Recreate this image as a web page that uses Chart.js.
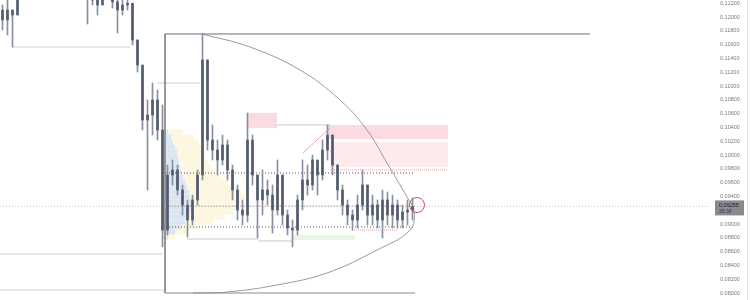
<!DOCTYPE html>
<html>
<head>
<meta charset="utf-8">
<script src="https://cdn.jsdelivr.net/npm/chart.js@4.4.1/dist/chart.umd.min.js"></script>
<style>
  html, body { margin: 0; padding: 0; background: #fff; }
  #wrap { position: relative; width: 750px; height: 300px; }
</style>
</head>
<body>
<div id="wrap"><canvas id="chart"></canvas></div>
<script>
// candles, one per bar index (bars 3-16 and 20-21 trade above the visible range)
const highs = [
  0.12174, 0.12246, 0.12101,
  0.1250, 0.1262, 0.1275, 0.1281, 0.1290, 0.1284, 0.1277, 0.1270, 0.1266, 0.1259, 0.1263, 0.1256, 0.1252, 0.1247,
  0.1239, 0.1232, 0.1232, 0.1240, 0.1242, 0.1232, 0.12246, 0.1226, 0.1228,
  0.12174, 0.11667, 0.11232, 0.10797, 0.11043, 0.10942, 0.10725,
  0.09855, 0.09928, 0.09855, 0.09565, 0.09348, 0.09420, 0.09783,
  0.11754, 0.11377, 0.10435, 0.10217, 0.10290, 0.10217, 0.09855, 0.09565, 0.09348,
  0.10609, 0.10290, 0.09710, 0.09783, 0.09638, 0.09565, 0.09928, 0.09710, 0.09203, 0.09058,
  0.09420, 0.09928, 0.09855, 0.10000, 0.09855, 0.10217, 0.10435, 0.10290, 0.09855, 0.09565,
  0.09348, 0.09203, 0.09420, 0.09783, 0.09565, 0.09420, 0.09348, 0.09493, 0.09464, 0.09420,
  0.09348, 0.09275, 0.09348, 0.09377
];
const lows = [
  0.11812, 0.11739, 0.11565,
  0.1233, 0.1244, 0.1258, 0.1266, 0.1271, 0.1265, 0.1259, 0.1253, 0.1247, 0.1242, 0.1244, 0.1238, 0.1236, 0.1231,
  0.11899, 0.12174, 0.12029, 0.1228, 0.1229, 0.1213, 0.11768, 0.12029, 0.12101,
  0.11594, 0.11203, 0.10362, 0.09493, 0.10290, 0.10217, 0.08667,
  0.08841, 0.09565, 0.09420, 0.09130, 0.08812, 0.08986, 0.09275,
  0.09638, 0.10072, 0.09928, 0.09710, 0.09855, 0.09638, 0.09348, 0.09058, 0.08986,
  0.09029, 0.09565, 0.08797, 0.09130, 0.09275, 0.08870, 0.09130, 0.08986, 0.08841, 0.08667,
  0.08841, 0.09203, 0.09420, 0.09493, 0.09420, 0.09638, 0.09928, 0.09710, 0.09348, 0.09130,
  0.08986, 0.08913, 0.08942, 0.09203, 0.08986, 0.08986, 0.08942, 0.08797, 0.08986, 0.08942,
  0.08942, 0.08942, 0.08986, 0.09058
];
const closes = [
  0.11957, 0.12101, 0.12029,
  0.1240, 0.1255, 0.1266, 0.1278, 0.1276, 0.1270, 0.1262, 0.1258, 0.1250, 0.1255, 0.1249, 0.1245, 0.1240, 0.1236,
  0.1227, 0.12246, 0.12174, 0.1235, 0.1231, 0.1222, 0.12101, 0.12174, 0.1220,
  0.11667, 0.11304, 0.10507, 0.10580, 0.10797, 0.10362, 0.08913,
  0.09710, 0.09783, 0.09493, 0.09275, 0.09058, 0.09348, 0.09710,
  0.11377, 0.10217, 0.10072, 0.09928, 0.10145, 0.09783, 0.09493, 0.09203, 0.09130,
  0.10217, 0.09710, 0.09348, 0.09493, 0.09420, 0.09203, 0.09710, 0.09130, 0.08942, 0.08913,
  0.09348, 0.09638, 0.09565, 0.09928, 0.09710, 0.10072, 0.10290, 0.09855, 0.09493, 0.09275,
  0.09130, 0.09058, 0.09275, 0.09565, 0.09130, 0.09275, 0.09058, 0.09348, 0.09130, 0.09275,
  0.09058, 0.09174, 0.09203, 0.09255
];
const firstOpen = 0.1210;

const lastPrice = 0.09255;
const countdown = '35:38';

// drawings, in bar index / price
const frameTop = 0.11754, frameBottom = 0.08000;
const frameStart = 32.5, frameEnd = 117.5, frameBottomEnd = 82.5;
const arcPts = [
  [39.9, 0.11754], [49.5, 0.11565], [59.5, 0.11232], [67.5, 0.10797], [72.9, 0.10362],
  [76.9, 0.09884], [80.9, 0.09391], [82.3, 0.09203], [81.5, 0.08913], [74.9, 0.08623],
  [64.9, 0.08290], [54.9, 0.08116], [44.9, 0.08014], [38.1, 0.08000]
];
const rangeStart = 32.1, rangeEnd = 82.5;
const rangeLevels = [0.09739, 0.08957];
const rangeMid = 0.09261;
const leftLevels = [[1.9, 25.5, 0.11565], [-0.5, 32.1, 0.08565], [-0.5, 32.5, 0.08043], [30.9, 39.5, 0.11043]];
const supportLevels = [[36.9, 51.1, 0.08783], [51.1, 58.1, 0.08754], [54.9, 65.5, 0.10435]];
const pinkLevels = [[69.9, 79.1, 0.08913], [65.5, 89.1, 0.09783]];
const pinkDiagonal = [[60.1, 0.10029], [65.5, 0.10391]];
const supplyZones = [[48.9, 54.9, 0.10609, 0.10391], [65.1, 89.1, 0.10435, 0.10232]];
const weakZones = [[65.5, 89.1, 0.10188, 0.09826]];
const demandZone = [58.1, 70.5, 0.08841, 0.08768];
const marker = [82.9, 0.09275];

// volume profile rows
const profileStart = 32.1;
const profilePrices = [0.10333, 0.10261, 0.10188, 0.10116, 0.10043, 0.09971, 0.09899, 0.09826, 0.09754, 0.09681, 0.09609,
  0.09536, 0.09464, 0.09391, 0.09319, 0.09246, 0.09174, 0.09101, 0.09029, 0.08957, 0.08884, 0.08812];
const profileBuy = [1, 1.6, 2, 2.4, 2.8, 3, 3.2, 3.4, 3.6, 4, 4.4, 4.8, 5.2, 5.4, 5.6, 5.6, 5.4, 5, 4.4, 3.6, 2.4, 1];
const profileTotal = [4, 6, 7, 7.6, 8, 8.4, 9, 9.6, 10.4, 11.6, 13, 14.4, 15.6, 16.4, 16, 15, 14, 12.4, 10, 7.6, 5, 2.4];
const profileStep = 0.000725;

const wickData = highs.map((h, i) => ({ x: i, y: [lows[i], h] }));
const bodyData = closes.map((c, i) => ({ x: i, y: [i ? closes[i - 1] : firstOpen, c] }));

function seg(points, color, dash, width, tension) {
  return {
    type: 'line',
    data: points.map(p => ({ x: p[0], y: p[1] })),
    borderColor: color, borderWidth: width || 1, borderDash: dash || [],
    pointRadius: 0, tension: tension || 0, fill: false, order: 2
  };
}

const lineSets = [
  seg([[-0.5, lastPrice], [142, lastPrice]], '#c4c4c4', [1, 2]),
  seg([[frameStart, frameTop], [frameEnd, frameTop]], '#6e6e6e'),
  seg([[frameStart, frameTop], [frameStart, frameBottom]], '#8a8a8a'),
  seg([[frameStart, frameBottom], [frameBottomEnd, frameBottom]], '#8a8a8a'),
  seg(arcPts, '#9a9a9a', [], 1, 0.4),
  seg([[rangeStart, rangeMid], [rangeEnd, rangeMid]], '#b88484', [1, 2]),
  ...rangeLevels.map(v => seg([[rangeStart, v], [rangeEnd, v]], '#5a5a5a', [1, 2])),
  ...leftLevels.map(l => seg([[l[0], l[2]], [l[1], l[2]]], '#cfcfcf')),
  ...supportLevels.map(l => seg([[l[0], l[2]], [l[1], l[2]]], '#c9c9c9')),
  ...pinkLevels.map(l => seg([[l[0], l[2]], [l[1], l[2]]], '#dba3a8', [1, 1])),
  seg(pinkDiagonal, '#e7aab0')
];

const backdrop = {
  id: 'backdrop',
  beforeDatasetsDraw(chart) {
    const { ctx, scales: { x, y } } = chart;
    const rect = (x0, x1, p0, p1, color) => {
      const a = x.getPixelForValue(x0), b = x.getPixelForValue(x1);
      const t = y.getPixelForValue(p0), u = y.getPixelForValue(p1);
      ctx.fillStyle = color;
      ctx.fillRect(a, t, b - a, u - t);
    };
    ctx.save();
    profilePrices.forEach((p, i) => {
      rect(profileStart, profileStart + profileTotal[i], p + profileStep / 2, p - profileStep / 2, 'rgba(252,242,205,0.6)');
      rect(profileStart, profileStart + profileBuy[i], p + profileStep / 2, p - profileStep / 2, 'rgba(214,227,246,0.85)');
    });
    supplyZones.forEach(z => rect(z[0], z[1], z[2], z[3], 'rgba(244,170,182,0.42)'));
    weakZones.forEach(z => rect(z[0], z[1], z[2], z[3], 'rgba(246,190,198,0.32)'));
    rect(demandZone[0], demandZone[1], demandZone[2], demandZone[3], 'rgba(205,232,200,0.45)');
    ctx.restore();
  }
};

const overlay = {
  id: 'overlay',
  afterDatasetsDraw(chart) {
    const { ctx, chartArea, scales: { x, y } } = chart;
    ctx.save();
    // highlight circle on the last bars
    ctx.beginPath();
    ctx.arc(x.getPixelForValue(marker[0]), y.getPixelForValue(marker[1]), 7.5, 0, Math.PI * 2);
    ctx.strokeStyle = '#c0545a';
    ctx.lineWidth = 1;
    ctx.stroke();
    // last price label
    const py = y.getPixelForValue(lastPrice);
    const bx = chartArea.right + 5;
    ctx.fillStyle = '#878a90';
    ctx.fillRect(bx, py - 6, 29, 15);
    ctx.fillStyle = '#1f1f1f';
    ctx.font = '5.5px "Liberation Sans"';
    ctx.textBaseline = 'middle';
    ctx.fillText(lastPrice.toFixed(5), bx + 4, py - 1);
    ctx.fillStyle = '#3a3a3a';
    ctx.font = '5px "Liberation Sans"';
    ctx.fillText(countdown, bx + 4, py + 5);
    // pane edge
    ctx.strokeStyle = '#e3e3e3';
    ctx.beginPath();
    ctx.moveTo(chart.width - 2.5, 0);
    ctx.lineTo(chart.width - 2.5, chart.height);
    ctx.stroke();
    ctx.restore();
  }
};

new Chart(document.getElementById('chart'), {
  type: 'bar',
  data: {
    datasets: [
      { data: wickData, backgroundColor: '#8790a0', barThickness: 1, grouped: false, order: 1 },
      { data: bodyData, backgroundColor: '#525b6d', barThickness: 2, minBarLength: 1, grouped: false, order: 0 },
      ...lineSets
    ]
  },
  options: {
    responsive: true,
    maintainAspectRatio: false,
    animation: false,
    layout: { padding: 0 },
    plugins: { legend: { display: false }, tooltip: { enabled: false } },
    scales: {
      x: { type: 'linear', min: -0.5, max: 141.5, offset: false, display: false },
      y: {
        position: 'right',
        min: 0.078986,
        max: 0.122464,
        afterFit(scale) {
          scale.width = 40;
          scale.paddingTop = 0;
          scale.paddingBottom = 0;
        },
        grid: { display: false, drawTicks: false },
        border: { display: false },
        ticks: {
          stepSize: 0.002,
          includeBounds: false,
          autoSkip: false,
          padding: 10,
          color: '#7b7b7b',
          font: { family: 'Liberation Sans', size: 5.5 },
          callback: v => Number(v).toFixed(5)
        }
      }
    }
  },
  plugins: [backdrop, overlay]
});
</script>
</body>
</html>
